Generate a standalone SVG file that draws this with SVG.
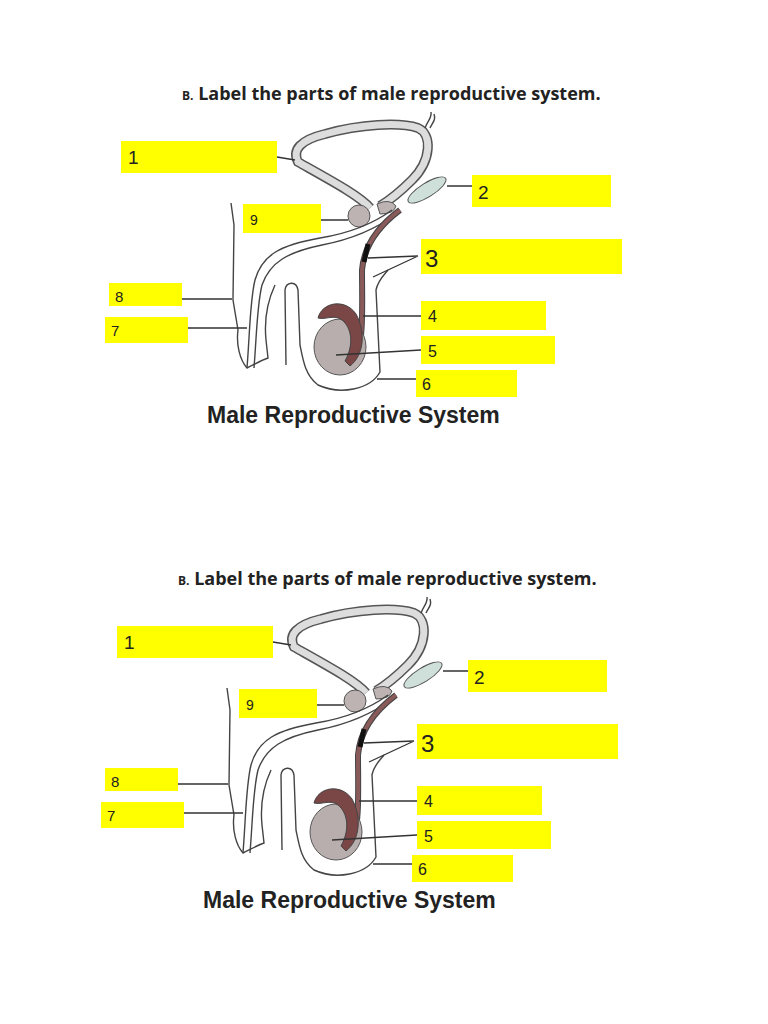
<svg xmlns="http://www.w3.org/2000/svg" xmlns:xlink="http://www.w3.org/1999/xlink" width="768" height="1024" viewBox="0 0 768 1024">
<style>
.box{fill:#ffff00}
.ln{stroke:#333;stroke-width:1.3;fill:none}
.out{stroke:#444;stroke-width:1.4;fill:none}
.n{font-family:"Liberation Sans",Arial,sans-serif;fill:#222}
.t{font-family:"Open Sans","Liberation Sans",sans-serif;font-weight:bold;font-size:18px;fill:#222}
.f{font-family:"Liberation Sans",Arial,sans-serif;font-weight:bold;font-size:23px;fill:#222}
</style>
<rect width="768" height="1024" fill="#fff"/>
<defs>
<g id="sheet">
<text class="t" x="182" y="100"><tspan style="font-size:12px">B.</tspan> Label the parts of male reproductive system.</text>
<path d="M370,208 C360,196 330,180 298,162 C292,150 300,140 325,134 C360,124 400,122 418,128 C432,134 432,160 412,180 C400,192 390,200 380,206" fill="none" stroke="#555" stroke-width="10"/>
<path d="M370,208 C360,196 330,180 298,162 C292,150 300,140 325,134 C360,124 400,122 418,128 C432,134 432,160 412,180 C400,192 390,200 380,206" fill="none" stroke="#ddd" stroke-width="7"/>
<path class="out" d="M425,128 C428,120 432,118 431,112 M430,128 C433,122 436,120 434,114"/>
<circle cx="359" cy="216" r="11" fill="#bdb3b3" stroke="#555"/>
<path d="M377,204 Q390,198 396,206 Q394,214 380,214 Z" fill="#bdb3b3" stroke="#555"/>
<ellipse cx="427" cy="190" rx="22" ry="7" transform="rotate(-32 427 190)" fill="#cfe0da" stroke="#555"/>
<path class="out" d="M231,203 L234,225 L233,300 L238,330 C236,345 240,360 247,368 C255,364 262,360 268,358 L266,340 C264,320 268,300 275,285"/>
<path class="out" d="M247,368 C250,330 250,300 255,280 C262,255 280,245 320,238 C345,234 370,226 392,210"/>
<path class="out" d="M254,368 C257,330 257,305 262,285 C270,262 288,252 322,245 C348,240 372,232 396,214"/>
<path class="out" d="M286,365 L285,290 C286,282 296,280 298,290 L300,345 C303,360 305,375 318,385 C340,395 370,390 380,372 L376,290 C378,280 384,275 388,270"/>
<path d="M356,362 C364,340 362,300 362,270 C364,245 380,225 400,210" fill="none" stroke="#444" stroke-width="6"/>
<path d="M356,362 C364,340 362,300 362,270 C364,245 380,225 400,210" fill="none" stroke="#8a5a5a" stroke-width="4"/>
<path d="M364,262 L368,244" stroke="#111" stroke-width="5"/>
<ellipse cx="340" cy="347" rx="26" ry="28" fill="#b8aeae" stroke="#555"/>
<path d="M318,318 C322,302 345,298 356,314 C366,332 364,355 350,366 L345,361 C354,345 352,328 342,320 C334,314 326,320 318,318 Z" fill="#7a4646" stroke="#444"/>
<rect class="box" x="121" y="141" width="156" height="32"/><text class="n" x="128" y="164" style="font-size:19px">1</text>
<rect class="box" x="472" y="175" width="139" height="32"/><text class="n" x="478" y="199" style="font-size:19px">2</text>
<rect class="box" x="243" y="204" width="78" height="29"/><text class="n" x="250" y="225" style="font-size:14px">9</text>
<rect class="box" x="421" y="239" width="201" height="35"/><text class="n" x="425" y="267" style="font-size:24px">3</text>
<rect class="box" x="109" y="283" width="73" height="23"/><text class="n" x="115" y="302" style="font-size:15px">8</text>
<rect class="box" x="105" y="317" width="83" height="26"/><text class="n" x="111" y="336" style="font-size:15px">7</text>
<rect class="box" x="421" y="301" width="125" height="29"/><text class="n" x="428" y="322" style="font-size:16px">4</text>
<rect class="box" x="421" y="336" width="134" height="28"/><text class="n" x="428" y="357" style="font-size:16px">5</text>
<rect class="box" x="416" y="370" width="101" height="27"/><text class="n" x="422" y="390" style="font-size:16px">6</text>
<path class="ln" d="M277,157 L295,160 M447,186 L472,186 M321,220 L348,220 M418,256 L368,258 M418,256 L373,277 M182,299 L232,299 M188,328 L247,328 M421,316 L363,316 M421,350 L336,355 M416,379 L377,379"/>
<text class="f" x="207" y="423">Male Reproductive System</text>
</g>
</defs>
<use xlink:href="#sheet"/>
<use xlink:href="#sheet" transform="translate(-4,485)"/>
</svg>
